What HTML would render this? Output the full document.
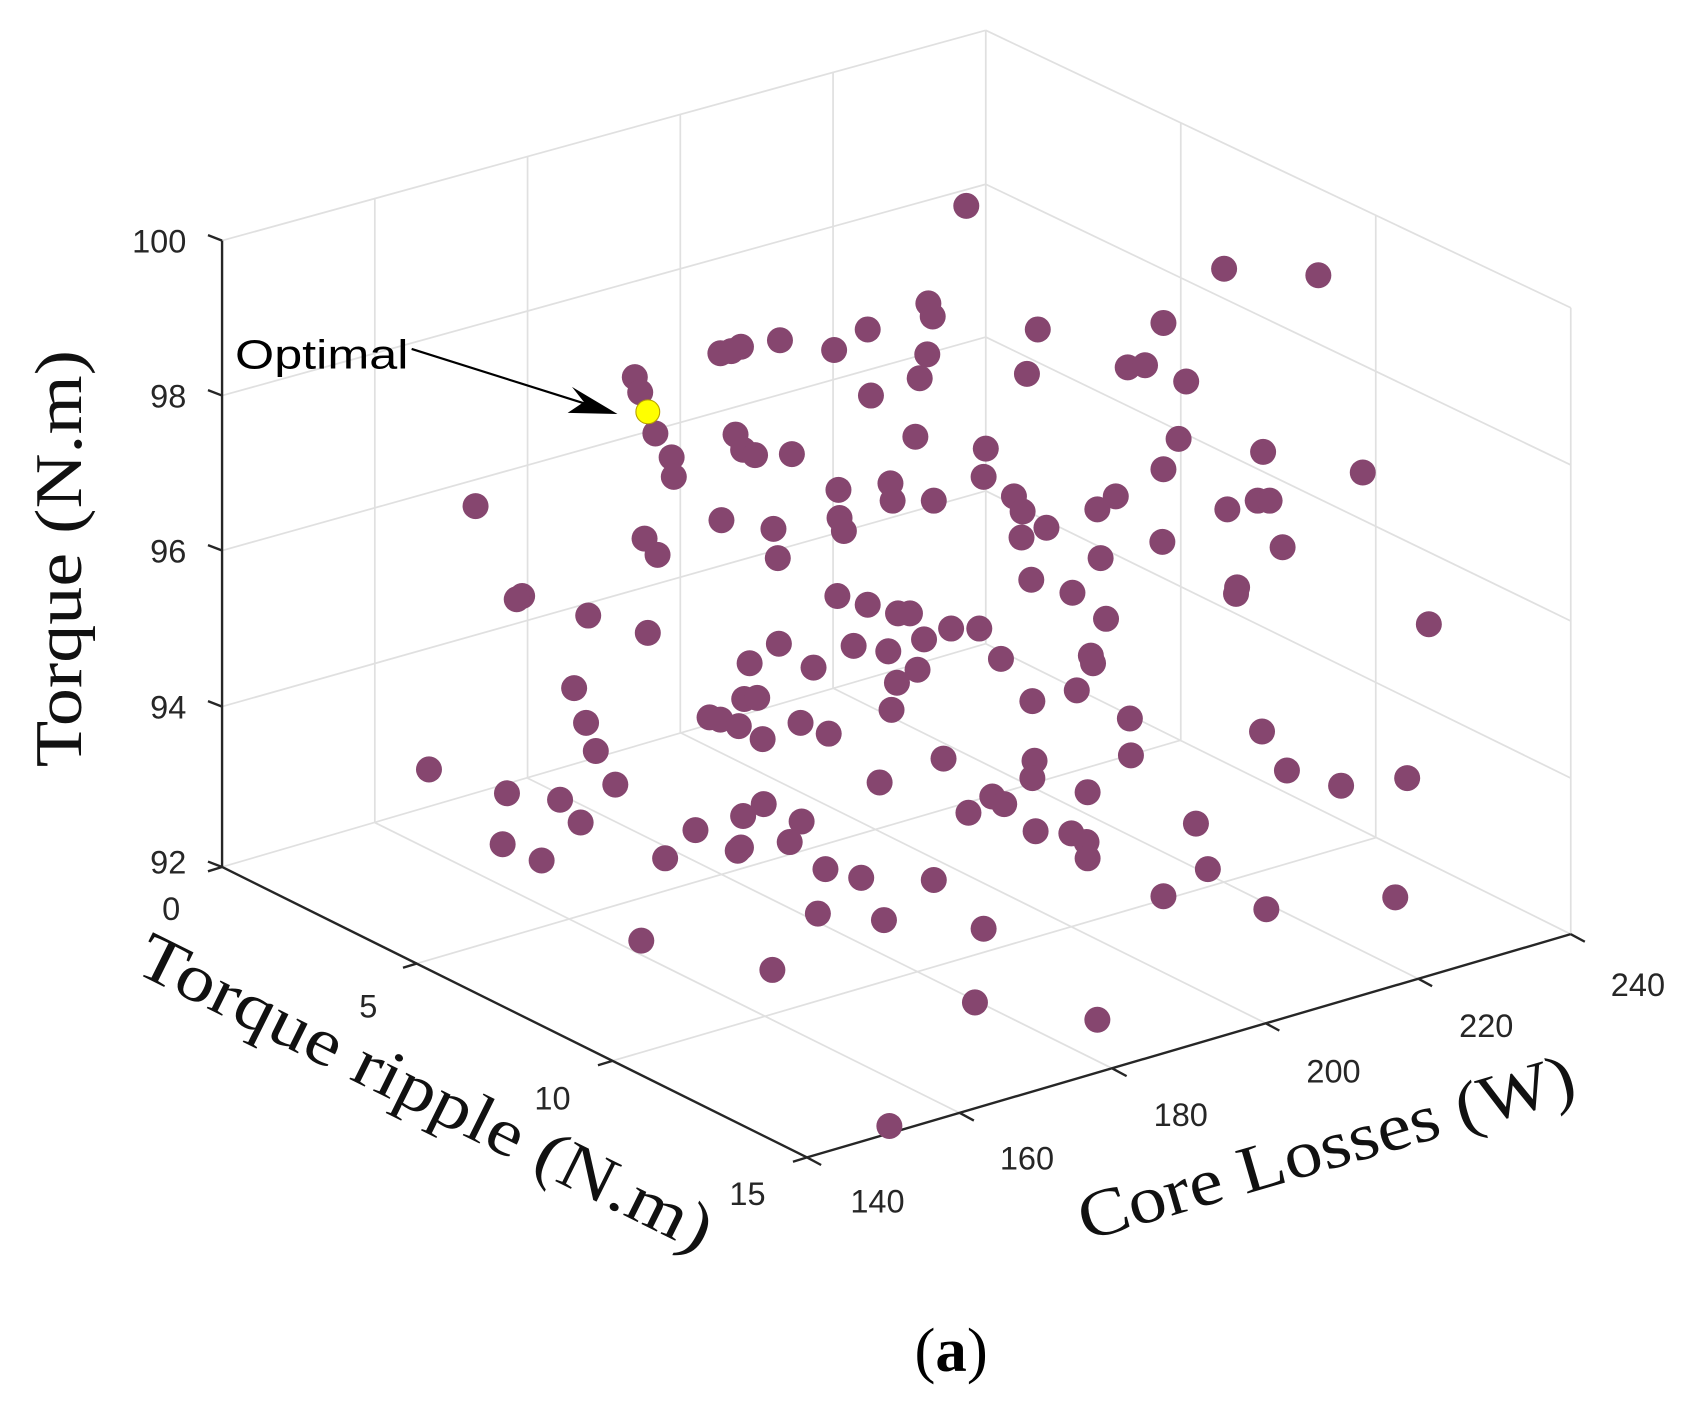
<!DOCTYPE html>
<html><head><meta charset="utf-8"><style>html,body{margin:0;padding:0;background:#fff;}svg{display:block;}</style></head>
<body>
<svg width="1691" height="1411" viewBox="0 0 1561 1302" preserveAspectRatio="none" xmlns="http://www.w3.org/2000/svg">
<rect width="1561" height="1302" fill="#fff"/>
<g stroke="#e0e0e0" stroke-width="1.6" fill="none">
<line x1="205" y1="222" x2="205" y2="800"/>
<line x1="346" y1="183" x2="346" y2="759"/>
<line x1="487" y1="144" x2="487" y2="718"/>
<line x1="628" y1="106" x2="628" y2="676"/>
<line x1="769" y1="67" x2="769" y2="635"/>
<line x1="910" y1="28" x2="910" y2="594"/>
<line x1="205" y1="222" x2="910" y2="28"/>
<line x1="205" y1="365" x2="910" y2="170"/>
<line x1="205" y1="508" x2="910" y2="311"/>
<line x1="205" y1="652" x2="910" y2="453"/>
<line x1="205" y1="800" x2="910" y2="594"/>
<line x1="1090" y1="113" x2="1090" y2="683"/>
<line x1="1270" y1="199" x2="1270" y2="773"/>
<line x1="1450" y1="284" x2="1450" y2="862"/>
<line x1="910" y1="28" x2="1450" y2="284"/>
<line x1="910" y1="170" x2="1450" y2="429"/>
<line x1="910" y1="311" x2="1450" y2="573"/>
<line x1="910" y1="453" x2="1450" y2="718"/>
<line x1="910" y1="594" x2="1450" y2="862"/>
<line x1="346" y1="759" x2="886" y2="1027"/>
<line x1="487" y1="718" x2="1027" y2="986"/>
<line x1="628" y1="676" x2="1168" y2="944"/>
<line x1="769" y1="635" x2="1309" y2="903"/>
<line x1="385" y1="889" x2="1090" y2="683"/>
<line x1="565" y1="979" x2="1270" y2="773"/>
</g>
<g stroke="#262626" stroke-width="2.2" fill="none">
<line x1="205" y1="222" x2="205" y2="800"/>
<line x1="205" y1="800" x2="745" y2="1068"/>
<line x1="745" y1="1068" x2="1450" y2="862"/>
<line x1="205" y1="222" x2="192" y2="217"/>
<line x1="205" y1="365" x2="192" y2="360"/>
<line x1="205" y1="508" x2="192" y2="503"/>
<line x1="205" y1="652" x2="192" y2="647"/>
<line x1="205" y1="800" x2="192" y2="795"/>
<line x1="205" y1="800" x2="192" y2="804"/>
<line x1="385" y1="889" x2="372" y2="893"/>
<line x1="565" y1="979" x2="552" y2="983"/>
<line x1="745" y1="1068" x2="732" y2="1072"/>
<line x1="745" y1="1068" x2="758" y2="1075"/>
<line x1="886" y1="1027" x2="899" y2="1034"/>
<line x1="1027" y1="986" x2="1040" y2="993"/>
<line x1="1168" y1="944" x2="1181" y2="951"/>
<line x1="1309" y1="903" x2="1322" y2="910"/>
<line x1="1450" y1="862" x2="1463" y2="869"/>
</g>
<g font-family="Liberation Sans, sans-serif" font-size="30" fill="#262626">
<g text-anchor="end">
<text x="172" y="233">100</text>
<text x="172" y="376">98</text>
<text x="172" y="519">96</text>
<text x="172" y="663">94</text>
<text x="172" y="806">92</text>
</g>
<g text-anchor="middle">
<text x="158" y="849">0</text>
<text x="340" y="939">5</text>
<text x="510" y="1024">10</text>
<text x="690" y="1112">15</text>
<text x="810" y="1119">140</text>
<text x="948" y="1079">160</text>
<text x="1090" y="1039">180</text>
<text x="1231" y="999">200</text>
<text x="1372" y="957">220</text>
<text x="1512" y="919">240</text>
</g>
</g>
<g font-family="Liberation Serif, serif" font-size="62" fill="#111">
<text transform="translate(75,708) rotate(-90)" textLength="385" lengthAdjust="spacingAndGlyphs">Torque (N.m)</text>
<text transform="translate(122,896) rotate(26.4)" textLength="585" lengthAdjust="spacingAndGlyphs">Torque ripple (N.m)</text>
<text transform="translate(1002,1145) rotate(-16.3)" textLength="475" lengthAdjust="spacingAndGlyphs">Core Losses (W)</text>
</g>
<text x="878" y="1265" text-anchor="middle" font-family="Liberation Serif, serif" font-size="58" fill="#000">(<tspan font-weight="bold">a</tspan>)</text>
<g fill="#86466f">
<circle cx="892" cy="190" r="12"/><circle cx="1130" cy="248" r="12"/><circle cx="1217" cy="254" r="12"/><circle cx="857" cy="280" r="12"/><circle cx="861" cy="292" r="12"/><circle cx="958" cy="304" r="12"/><circle cx="1074" cy="298" r="12"/><circle cx="801" cy="304" r="12"/><circle cx="720" cy="314" r="12"/><circle cx="770" cy="323" r="12"/><circle cx="665" cy="326" r="12"/><circle cx="675" cy="324" r="12"/><circle cx="684" cy="320" r="12"/><circle cx="856" cy="327" r="12"/><circle cx="586" cy="348" r="12"/><circle cx="591" cy="362" r="12"/><circle cx="849" cy="349" r="12"/><circle cx="948" cy="345" r="12"/><circle cx="1041" cy="339" r="12"/><circle cx="1057" cy="337" r="12"/><circle cx="1095" cy="352" r="12"/><circle cx="804" cy="365" r="12"/><circle cx="605" cy="400" r="12"/><circle cx="679" cy="401" r="12"/><circle cx="686" cy="415" r="12"/><circle cx="697" cy="420" r="12"/><circle cx="731" cy="419" r="12"/><circle cx="845" cy="403" r="12"/><circle cx="910" cy="414" r="12"/><circle cx="1088" cy="405" r="12"/><circle cx="1166" cy="417" r="12"/><circle cx="620" cy="422" r="12"/><circle cx="622" cy="440" r="12"/><circle cx="1074" cy="433" r="12"/><circle cx="1258" cy="436" r="12"/><circle cx="908" cy="440" r="12"/><circle cx="822" cy="446" r="12"/><circle cx="774" cy="452" r="12"/><circle cx="824" cy="462" r="12"/><circle cx="862" cy="462" r="12"/><circle cx="936" cy="458" r="12"/><circle cx="944" cy="472" r="12"/><circle cx="1030" cy="458" r="12"/><circle cx="1013" cy="470" r="12"/><circle cx="1133" cy="470" r="12"/><circle cx="1161" cy="462" r="12"/><circle cx="1172" cy="462" r="12"/><circle cx="439" cy="467" r="12"/><circle cx="666" cy="480" r="12"/><circle cx="775" cy="478" r="12"/><circle cx="779" cy="490" r="12"/><circle cx="714" cy="488" r="12"/><circle cx="966" cy="487" r="12"/><circle cx="943" cy="496" r="12"/><circle cx="595" cy="497" r="12"/><circle cx="607" cy="512" r="12"/><circle cx="718" cy="515" r="12"/><circle cx="1073" cy="500" r="12"/><circle cx="1184" cy="505" r="12"/><circle cx="1016" cy="515" r="12"/><circle cx="952" cy="535" r="12"/><circle cx="1142" cy="542" r="12"/><circle cx="1141" cy="548" r="12"/><circle cx="990" cy="547" r="12"/><circle cx="482" cy="550" r="12"/><circle cx="477" cy="553" r="12"/><circle cx="773" cy="550" r="12"/><circle cx="801" cy="558" r="12"/><circle cx="829" cy="566" r="12"/><circle cx="840" cy="566" r="12"/><circle cx="543" cy="568" r="12"/><circle cx="1021" cy="571" r="12"/><circle cx="1319" cy="576" r="12"/><circle cx="598" cy="584" r="12"/><circle cx="878" cy="580" r="12"/><circle cx="904" cy="580" r="12"/><circle cx="853" cy="590" r="12"/><circle cx="719" cy="594" r="12"/><circle cx="788" cy="596" r="12"/><circle cx="1007" cy="605" r="12"/><circle cx="1009" cy="612" r="12"/><circle cx="820" cy="601" r="12"/><circle cx="924" cy="608" r="12"/><circle cx="692" cy="612" r="12"/><circle cx="751" cy="616" r="12"/><circle cx="847" cy="618" r="12"/><circle cx="828" cy="630" r="12"/><circle cx="530" cy="635" r="12"/><circle cx="994" cy="637" r="12"/><circle cx="953" cy="647" r="12"/><circle cx="687" cy="645" r="12"/><circle cx="699" cy="644" r="12"/><circle cx="823" cy="655" r="12"/><circle cx="655" cy="662" r="12"/><circle cx="665" cy="664" r="12"/><circle cx="541" cy="667" r="12"/><circle cx="682" cy="670" r="12"/><circle cx="739" cy="667" r="12"/><circle cx="765" cy="677" r="12"/><circle cx="704" cy="682" r="12"/><circle cx="1043" cy="663" r="12"/><circle cx="1165" cy="675" r="12"/><circle cx="550" cy="693" r="12"/><circle cx="871" cy="700" r="12"/><circle cx="955" cy="702" r="12"/><circle cx="1044" cy="697" r="12"/><circle cx="396" cy="710" r="12"/><circle cx="953" cy="718" r="12"/><circle cx="812" cy="722" r="12"/><circle cx="1188" cy="711" r="12"/><circle cx="1238" cy="725" r="12"/><circle cx="1299" cy="718" r="12"/><circle cx="568" cy="724" r="12"/><circle cx="468" cy="732" r="12"/><circle cx="517" cy="738" r="12"/><circle cx="916" cy="735" r="12"/><circle cx="927" cy="742" r="12"/><circle cx="1004" cy="731" r="12"/><circle cx="705" cy="742" r="12"/><circle cx="686" cy="753" r="12"/><circle cx="740" cy="758" r="12"/><circle cx="894" cy="750" r="12"/><circle cx="536" cy="759" r="12"/><circle cx="642" cy="766" r="12"/><circle cx="956" cy="767" r="12"/><circle cx="989" cy="769" r="12"/><circle cx="1104" cy="760" r="12"/><circle cx="1003" cy="777" r="12"/><circle cx="729" cy="777" r="12"/><circle cx="1004" cy="792" r="12"/><circle cx="464" cy="779" r="12"/><circle cx="681" cy="785" r="12"/><circle cx="684" cy="782" r="12"/><circle cx="614" cy="792" r="12"/><circle cx="500" cy="794" r="12"/><circle cx="762" cy="802" r="12"/><circle cx="795" cy="810" r="12"/><circle cx="862" cy="812" r="12"/><circle cx="1115" cy="802" r="12"/><circle cx="1074" cy="827" r="12"/><circle cx="1169" cy="839" r="12"/><circle cx="1288" cy="828" r="12"/><circle cx="755" cy="843" r="12"/><circle cx="816" cy="849" r="12"/><circle cx="908" cy="857" r="12"/><circle cx="592" cy="868" r="12"/><circle cx="713" cy="895" r="12"/><circle cx="900" cy="925" r="12"/><circle cx="1013" cy="941" r="12"/><circle cx="821" cy="1039" r="12"/>
</g>
<circle cx="598" cy="380" r="11" fill="#ffff00" stroke="#b8a000" stroke-width="1"/>
<text x="217" y="340" font-family="Liberation Sans, sans-serif" font-size="38" fill="#000" textLength="160" lengthAdjust="spacingAndGlyphs">Optimal</text>
<line x1="380" y1="322" x2="545" y2="374" stroke="#000" stroke-width="2"/>
<polygon points="570,382 528,357 539,371 524,381" fill="#000"/>
</svg>
</body></html>
